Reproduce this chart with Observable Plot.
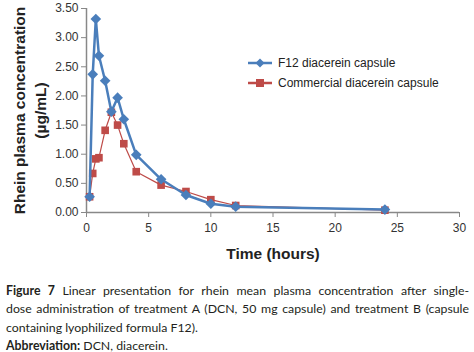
<!DOCTYPE html>
<html><head><meta charset="utf-8">
<script src="https://cdn.jsdelivr.net/npm/d3@7"></script>
<script src="https://cdn.jsdelivr.net/npm/@observablehq/plot@0.6"></script>
<style>
body{margin:0;background:#fff;}
#wrap{position:relative;width:474px;}
#legend{position:absolute;left:248px;top:53px;font:12px "Liberation Sans",Arial,sans-serif;color:#222;}
#legend div{display:flex;align-items:center;height:20px;}
#legend svg{margin-right:6px;}
#cap{font:12.3px Lato,"Open Sans",sans-serif;color:#231f20;line-height:18.3px;margin:12px 5px 0 6px;}
#cap .j{text-align:justify;text-align-last:justify;white-space:nowrap;}
#cap b{font-weight:700;}
</style></head><body>
<div id="wrap"><div id="chart"></div>
<div id="legend">
<div><svg width="24" height="10"><line x1="0" y1="5" x2="24" y2="5" stroke="#4a7ebb" stroke-width="2.5"/><path d="M12,0.5L16.5,5L12,9.5L7.5,5Z" fill="#4a7ebb"/></svg>F12 diacerein capsule</div>
<div><svg width="24" height="10"><line x1="0" y1="5" x2="24" y2="5" stroke="#be4b48" stroke-width="2.5"/><rect x="8" y="1" width="8" height="8" fill="#be4b48"/></svg>Commercial diacerein capsule</div>
</div>
</div>
<div id="cap"><div class="j"><b>Figure 7</b> Linear presentation for rhein mean plasma concentration after single-</div><div class="j">dose administration of treatment A (DCN, 50 mg capsule) and treatment B (capsule</div><div>containing lyophilized formula F12).</div><div><b>Abbreviation:</b> DCN, diacerein.</div></div>
<script>
const times = [0.25, 0.5, 0.75, 1, 1.5, 2, 2.5, 3, 4, 6, 8, 10, 12, 24];
const f12 = [0.27, 2.37, 3.32, 2.69, 2.26, 1.73, 1.97, 1.60, 0.99, 0.57, 0.30, 0.15, 0.10, 0.05];
const commercial = [0.27, 0.67, 0.92, 0.94, 1.41, 1.72, 1.50, 1.18, 0.70, 0.47, 0.36, 0.22, 0.12, 0.04];
const xTicks = [0, 5, 10, 15, 20, 25, 30];
const yTicks = [0, 0.5, 1, 1.5, 2, 2.5, 3, 3.5];

const blue = times.map((t, i) => ({t, v: f12[i]}));
const red = times.map((t, i) => ({t, v: commercial[i]}));

const chart = Plot.plot({
  width: 474, height: 270,
  marginLeft: 86, marginRight: 15, marginTop: 8, marginBottom: 58,
  style: {fontFamily: '"Liberation Sans", Arial, sans-serif', fontSize: "12px", color: "#333"},
  x: {domain: [0, 30], ticks: xTicks, label: null},
  y: {domain: [0, 3.5], ticks: yTicks, label: null, tickFormat: d3.format(".2f")},
  marks: [
    Plot.axisX({ticks: xTicks, tickSize: 5, tickPadding: 6, stroke: "#888", fontSize: 12, fill: "#333"}),
    Plot.axisY({ticks: yTicks, tickSize: 5, tickPadding: 3, stroke: "#888", fontSize: 12, fill: "#333", tickFormat: d3.format(".2f")}),
    Plot.ruleX([0], {stroke: "#888", strokeWidth: 1.5}),
    Plot.ruleY([0], {stroke: "#888", strokeWidth: 1.5}),
    Plot.line(red, {x: "t", y: "v", stroke: "#be4b48", strokeWidth: 1.2}),
    Plot.dot(red, {x: "t", y: "v", symbol: "square", r: 4.3, fill: "#be4b48"}),
    Plot.line(blue, {x: "t", y: "v", stroke: "#4a7ebb", strokeWidth: 2.5}),
    Plot.dot(blue, {x: "t", y: "v", symbol: "diamond2", r: 4.8, fill: "#4a7ebb"}),
    Plot.text(["Time (hours)"], {frameAnchor: "bottom", dy: 46, fontSize: 15.5, fontWeight: "bold", fill: "#222", fontFamily: '"Liberation Sans", Arial, sans-serif'}),
    Plot.text(["Rhein plasma concentration"], {frameAnchor: "left", textAnchor: "middle", dx: -66, rotate: -90, fontSize: 15.5, fontWeight: "bold", fill: "#222"}),
    Plot.text(["(µg/mL)"], {frameAnchor: "left", textAnchor: "middle", dx: -45, rotate: -90, fontSize: 15.5, fontWeight: "bold", fill: "#222"})
  ]
});
document.getElementById("chart").appendChild(chart);
</script>
</body></html>
